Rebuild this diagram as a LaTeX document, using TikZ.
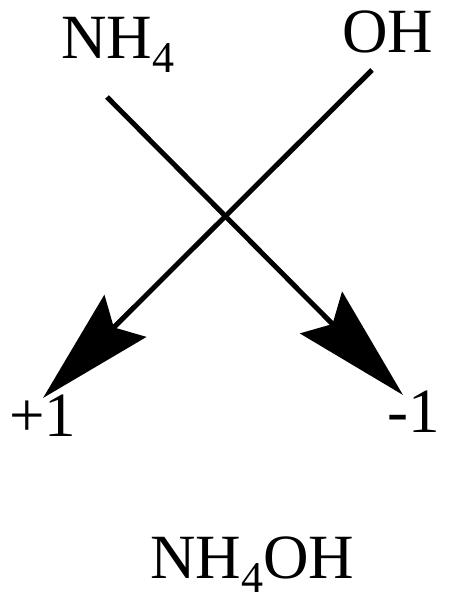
\documentclass[tikz,border=0pt]{standalone}
\usepackage{fontspec}
\setmainfont{Liberation Serif}
\usetikzlibrary{arrows.meta}

\newcommand{\subfour}{\raisebox{-14pt}{\fontsize{44}{44}\selectfont 4}}

\begin{document}
\begin{tikzpicture}[x=1pt, y=-1pt,
  chemnode/.style={inner sep=0pt, anchor=base west, font=\fontsize{63}{70}\selectfont},
  crossarrow/.style={line width=5pt, -{Stealth[length=116pt, width=59pt, inset=16pt]}}]

        \useasboundingbox (0,0) rectangle (450,605);

        \node[chemnode] (nh4) at (61,58) {NH\subfour};
        \node[chemnode] (oh) at (342,52) {OH};
        \node[chemnode] (plus) at (9,436) {+1};
        \node[chemnode] (minus) at (387,432) {-1};
        \node[chemnode] (sum) at (150,578) {NH\subfour OH};

        \coordinate (nh4 tail) at (107,97);
        \coordinate (minus tip) at (403,395);
        \coordinate (oh tail) at (372,70);
        \coordinate (plus tip) at (43,398);

        \draw[crossarrow] (nh4 tail) -- (minus tip);
        \draw[crossarrow] (oh tail) -- (plus tip);

        \end{tikzpicture}
\end{document}
